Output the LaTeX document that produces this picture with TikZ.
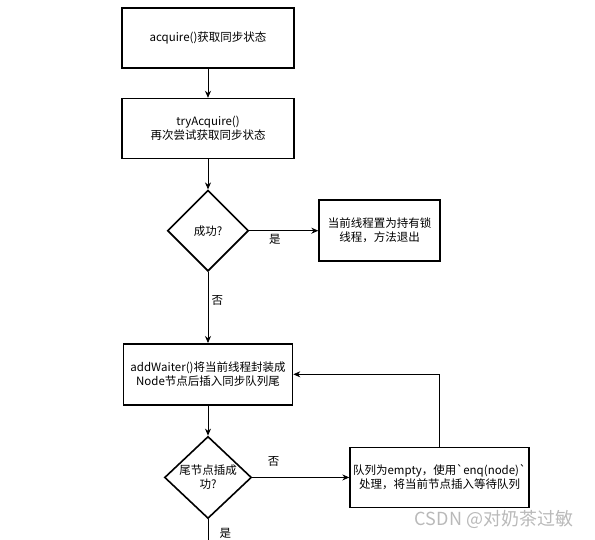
\documentclass[tikz,border=0pt]{standalone}
\usepackage{fontspec}
\setmainfont{Noto Sans CJK SC}[Ligatures=TeXOff]
\usetikzlibrary{positioning,calc,arrows.meta,shapes.geometric}
\tikzset{sbox/.style={draw, line width=1.6pt, minimum height=60pt, inner sep=2pt, align=center, font=\fontsize{11.5}{14}\selectfont}}
\tikzset{cond/.style={draw, diamond, line width=1.6pt, inner sep=0pt, align=center, font=\fontsize{11.5}{14}\selectfont}}
\tikzset{arr/.style={draw, -{Stealth[length=7pt,width=6pt]}, line width=0.8pt}}
\tikzset{lbl/.style={font=\fontsize{11.5}{14}\selectfont}}
\begin{document}
\begin{tikzpicture}[x=1pt,y=1pt]
			\useasboundingbox (0,0) rectangle (595,-539);
			\node[sbox, minimum width=172pt] (acq) at (208,-38) {acquire()获取同步状态};
			\node[sbox, minimum width=172pt, below=29pt of acq] (try) {tryAcquire()\\再次尝试获取同步状态};
			\node[cond, minimum width=81pt, minimum height=81pt, below=30pt of try] (ok) {成功?};
			\node[sbox, minimum width=121pt, minimum height=61pt, right=69pt of ok] (own) {当前线程置为持有锁\\线程，方法退出};
			\node[sbox, minimum width=169pt, minimum height=61pt, below=71pt of ok] (add) {addWaiter()将当前线程封装成\\Node节点后插入同步队列尾};
			\node[cond, minimum width=87pt, minimum height=80pt, below=30pt of add] (tail) {尾节点插成\\功?};
			\node[sbox, minimum width=179pt, right=97pt of tail] (enq) {队列为empty，使用`enq(node)`\\处理，将当前节点插入等待队列};
			\coordinate[below=31pt of tail] (out);
%
			\draw[arr] (acq) -- (try);
			\draw[arr] (try) -- (ok);
			\draw[arr] (ok) -- node[lbl, below, pos=0.37]{是} (own);
			\draw[arr] (ok) -- node[lbl, right, pos=0.4]{否} (add);
			\draw[arr] (add) -- (tail);
			\draw[arr] (tail) -- node[lbl, above=7pt, pos=0.22]{否} (enq);
			\draw[arr] (enq.north) |- (add.east);
			\draw[arr] (tail) -- node[lbl, right=8pt, pos=0.45]{是} (out);
			\node[text=gray!55, font=\fontsize{18}{20}\selectfont] (mark) at (494,-519) {CSDN @对奶茶过敏};
		\end{tikzpicture}
\end{document}
